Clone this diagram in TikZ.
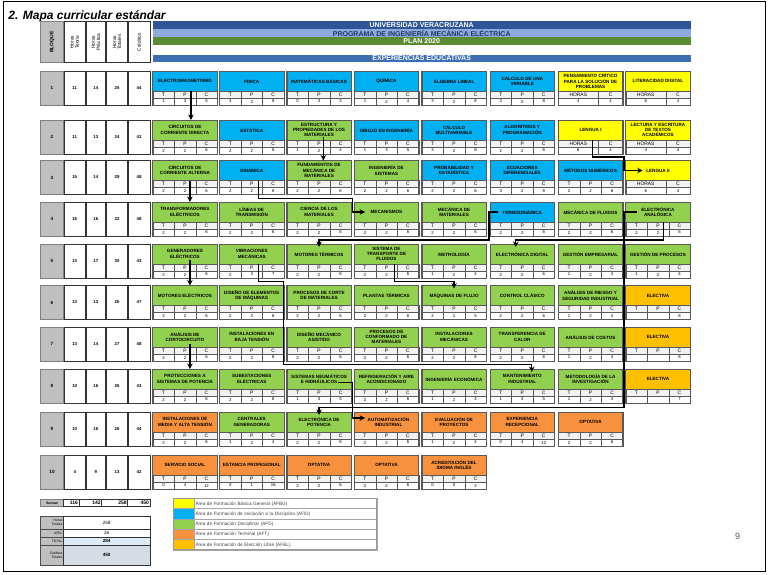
\documentclass[tikz,border=0pt]{standalone}
\usepackage{fontspec}
\setmainfont{Liberation Sans}
\usetikzlibrary{calc,arrows.meta}
\definecolor{cBlue}{HTML}{00B0F0}
\definecolor{cGreen}{HTML}{92D050}
\definecolor{cYel}{HTML}{FFFF00}
\definecolor{cOra}{HTML}{F7913D}
\definecolor{cGold}{HTML}{FFC000}
\definecolor{barA}{HTML}{2F5597}
\definecolor{barB}{HTML}{8EA9DB}
\definecolor{barC}{HTML}{5B8C32}
\definecolor{barD}{HTML}{3D6EB4}
\definecolor{barTxt}{HTML}{1F3864}
\definecolor{bxline}{HTML}{595959}
\definecolor{lgray}{HTML}{BFBFBF}
\definecolor{tblue}{HTML}{DDEBF7}
\definecolor{tgray}{HTML}{D6DCE4}
\newcommand\hdrfont{\fontsize{4.6}{5.2}\selectfont\bfseries}
\newcommand\cellfont{\fontsize{4.9}{5}\selectfont}
\newcommand\numfont{\fontsize{4.3}{4.5}\selectfont}
\newcommand\lblfont{\fontsize{4.6}{5}\selectfont\bfseries}
\def\XA{152.7}\def\XB{219.5}\def\XC{286.8}\def\XD{354.2}
\def\XE{421.8}\def\XF{490}\def\XG{558.3}\def\XH{625.7}
\def\YA{71}\def\YB{120}\def\YC{160.5}\def\YD{202}\def\YE{244}
\def\YF{285.5}\def\YG{327}\def\YH{369}\def\YI{412}\def\YJ{455}
\newcommand\course[8]{%
\node[hdr,fill=#4,anchor=north west] (#1) at (#2,#3) {#5};
\node[tc,anchor=north west] (#1-t) at (#2,#3+20) {T};
\node[tc,anchor=north west] (#1-p) at (#2+21.5,#3+20) {P};
\node[tc,anchor=north west] (#1-c) at (#2+43,#3+20) {C};
\node[vc,anchor=north west] (#1-tv) at (#2,#3+27) {#6};
\node[vc,anchor=north west] (#1-pv) at (#2+21.5,#3+27) {#7};
\node[vc,anchor=north west] (#1-cv) at (#2+43,#3+27) {#8};
\draw[frm] (#1.north west) rectangle (#1-cv.south east);}
\newcommand\courseh[6]{%
\node[hdr,fill=cYel,anchor=north west] (#1) at (#2,#3) {#4};
\node[tc,minimum width=40pt,anchor=north west] (#1-p) at (#2,#3+20) {HORAS};
\node[tc,minimum width=24.5pt,anchor=north west] (#1-c) at (#2+40,#3+20) {C};
\node[vc,minimum width=40pt,anchor=north west] (#1-pv) at (#2,#3+27) {#5};
\node[vc,minimum width=24.5pt,anchor=north west] (#1-cv) at (#2+40,#3+27) {#6};
\draw[frm] (#1.north west) rectangle (#1-cv.south east);}
\newcommand\lrow[6]{%
\node[lc,fill=lgray,draw=gray,line width=0.8pt,minimum width=22.6pt,anchor=north west,font=\lblfont] (b#2) at (40.7,#1) {#2};
\node[lc,minimum width=20.8pt,anchor=north west] (b#2-t) at (64.3,#1) {#3};
\node[lc,minimum width=19.6pt,anchor=north west] (b#2-p) at (86,#1) {#4};
\node[lc,minimum width=20.8pt,anchor=north west] (b#2-s) at (106.6,#1) {#5};
\node[lc,minimum width=21.8pt,anchor=north west] (b#2-c) at (128.2,#1) {#6};}
\begin{document}
\begin{tikzpicture}[x=1pt,y=-1pt,
  hdr/.style={draw=bxline,line width=0.5pt,minimum width=64.5pt,minimum height=20pt,inner sep=0.3pt,outer sep=0pt,align=center,font=\hdrfont},
  tc/.style={draw=bxline,line width=0.35pt,fill=gray!10,minimum width=21.5pt,minimum height=7pt,inner sep=0pt,outer sep=0pt,font=\cellfont},
  vc/.style={tc,fill=white,font=\numfont},
  frm/.style={draw=bxline,line width=0.7pt},
  lc/.style={draw=black!80,line width=0.5pt,fill=white,minimum height=34pt,inner sep=0pt,outer sep=0pt,font=\fontsize{4.3}{4.6}\selectfont\bfseries},
  bar/.style={minimum width=538pt,inner sep=0pt,outer sep=0pt,anchor=north west,font=\fontsize{7}{7}\selectfont\bfseries},
  arr/.style={draw=black,line width=1.3pt,-{Stealth[length=5.5pt,width=5.5pt]}},
  rot/.style={rotate=90,align=center,font=\fontsize{4.8}{5.2}\selectfont},
  lg/.style={draw=gray!70,line width=0.4pt,minimum height=10.3pt,inner sep=0pt,outer sep=0pt,anchor=north west},
]
\useasboundingbox (0,0) rectangle (768,575);
\fill[white] (0,0) rectangle (768,575);
\draw[line width=1pt] (3.5,1.5) rectangle (765,571);
\node[anchor=base west,inner sep=0pt,font=\fontsize{12}{14}\selectfont\bfseries\itshape] (title) at (8.3,19.3) {2. Mapa curricular estándar};

% header bars
\node[bar,fill=barA,minimum height=7.7pt,text=white] (uv) at (152.7,21.3) {UNIVERSIDAD VERACRUZANA};
\node[bar,fill=barB,minimum height=8.3pt,text=barTxt] (prog) at (152.7,29) {PROGRAMA DE INGENIERÍA MECÁNICA ELÉCTRICA};
\node[bar,fill=barC,minimum height=8pt,text=white] (plan) at (152.7,37.3) {PLAN 2020};
\node[bar,fill=barD,minimum height=7.3pt,text=white] (exp) at (152.7,54.7) {EXPERIENCIAS EDUCATIVAS};

% left header
\node[lc,fill=lgray,draw=gray,line width=0.8pt,minimum width=22.6pt,minimum height=41pt,anchor=north west] (hB) at (40.7,21.7) {};
\node[rot,font=\fontsize{5}{5.4}\selectfont\bfseries] (hBt) at (hB.center) {BLOQUE};
\node[lc,minimum width=20.8pt,minimum height=41pt,anchor=north west] (hT) at (64.3,21.7) {};
\node[rot] (hTt) at (hT.center) {Horas\\Teoría};
\node[lc,minimum width=19.6pt,minimum height=41pt,anchor=north west] (hP) at (86,21.7) {};
\node[rot] (hPt) at (hP.center) {Horas\\Práctica};
\node[lc,minimum width=20.8pt,minimum height=41pt,anchor=north west] (hS) at (106.6,21.7) {};
\node[rot] (hSt) at (hS.center) {Horas\\Totales};
\node[lc,minimum width=21.8pt,minimum height=41pt,anchor=north west] (hC) at (128.2,21.7) {};
\node[rot] (hCt) at (hC.center) {Créditos};

% left rows
\lrow{\YA}{1}{11}{14}{25}{44}
\lrow{\YB}{2}{11}{13}{24}{43}
\lrow{\YC}{3}{15}{14}{29}{48}
\lrow{\YD}{4}{16}{16}{32}{48}
\lrow{\YE}{5}{13}{17}{30}{43}
\lrow{\YF}{6}{13}{13}{26}{47}
\lrow{\YG}{7}{13}{14}{27}{48}
\lrow{\YH}{8}{10}{16}{26}{43}
\lrow{\YI}{9}{10}{16}{26}{44}
\lrow{\YJ}{10}{4}{9}{13}{42}

% row 1
\course{r1c1}{\XA}{\YA}{cBlue}{ELECTROMAGNETISMO}{1}{3}{5}
\course{r1c2}{\XB}{\YA}{cBlue}{FÍSICA}{3}{2}{8}
\course{r1c3}{\XC}{\YA}{cBlue}{MATEMÁTICAS BÁSICAS}{0}{3}{3}
\course{r1c4}{\XD}{\YA}{cBlue}{QUÍMICA}{1}{2}{4}
\course{r1c5}{\XE}{\YA}{cBlue}{ÁLGEBRA LINEAL}{3}{2}{8}
\course{r1c6}{\XF}{\YA}{cBlue}{CÁLCULO DE UNA\\VARIABLE}{3}{2}{8}
\courseh{r1c7}{\XG}{\YA}{PENSAMIENTO CRÍTICO\\PARA LA SOLUCIÓN DE\\PROBLEMAS}{4}{4}
\courseh{r1c8}{\XH}{\YA}{LITERACIDAD DIGITAL}{6}{4}
% row 2
\course{r2c1}{\XA}{\YB}{cGreen}{CIRCUITOS DE\\CORRIENTE DIRECTA}{2}{2}{6}
\course{r2c2}{\XB}{\YB}{cBlue}{ESTÁTICA}{2}{2}{6}
\course{r2c3}{\XC}{\YB}{cGreen}{ESTRUCTURA Y\\PROPIEDADES DE LOS\\MATERIALES}{1}{2}{4}
\course{r2c4}{\XD}{\YB}{cBlue}{DIBUJO EN INGENIERÍA}{1}{3}{5}
\course{r2c5}{\XE}{\YB}{cBlue}{CÁLCULO\\MULTIVARIABLE}{3}{2}{8}
\course{r2c6}{\XF}{\YB}{cBlue}{ALGORITMOS Y\\PROGRAMACIÓN}{2}{2}{6}
\courseh{r2c7}{\XG}{\YB}{LENGUA I}{6}{4}
\courseh{r2c8}{\XH}{\YB}{LECTURA Y ESCRITURA\\DE TEXTOS\\ACADÉMICOS}{4}{4}
% row 3
\course{r3c1}{\XA}{\YC}{cGreen}{CIRCUITOS DE\\CORRIENTE ALTERNA}{2}{2}{6}
\course{r3c2}{\XB}{\YC}{cBlue}{DINÁMICA}{2}{2}{6}
\course{r3c3}{\XC}{\YC}{cGreen}{FUNDAMENTOS DE\\MECÁNICA DE\\MATERIALES}{2}{2}{6}
\course{r3c4}{\XD}{\YC}{cGreen}{INGENIERÍA DE\\SISTEMAS}{2}{2}{6}
\course{r3c5}{\XE}{\YC}{cBlue}{PROBABILIDAD Y\\ESTADÍSTICA}{2}{2}{6}
\course{r3c6}{\XF}{\YC}{cBlue}{ECUACIONES\\DIFERENCIALES}{3}{2}{8}
\course{r3c7}{\XG}{\YC}{cBlue}{MÉTODOS NUMÉRICOS}{2}{2}{6}
\courseh{r3c8}{\XH}{\YC}{LENGUA II}{6}{4}
% row 4
\course{r4c1}{\XA}{\YD}{cGreen}{TRANSFORMADORES\\ELÉCTRICOS}{2}{2}{6}
\course{r4c2}{\XB}{\YD}{cGreen}{LÍNEAS DE\\TRANSMISIÓN}{2}{2}{6}
\course{r4c3}{\XC}{\YD}{cGreen}{CIENCIA DE LOS\\MATERIALES}{2}{2}{6}
\course{r4c4}{\XD}{\YD}{cGreen}{MECANISMOS}{2}{2}{6}
\course{r4c5}{\XE}{\YD}{cGreen}{MECÁNICA DE\\MATERIALES}{2}{2}{6}
\course{r4c6}{\XF}{\YD}{cBlue}{TERMODINÁMICA}{2}{2}{6}
\course{r4c7}{\XG}{\YD}{cGreen}{MECÁNICA DE FLUIDOS}{2}{2}{6}
\course{r4c8}{\XH}{\YD}{cGreen}{ELECTRÓNICA\\ANALÓGICA}{2}{2}{6}
% row 5
\course{r5c1}{\XA}{\YE}{cGreen}{GENERADORES\\ELÉCTRICOS}{2}{2}{6}
\course{r5c2}{\XB}{\YE}{cGreen}{VIBRACIONES\\MECÁNICAS}{2}{3}{7}
\course{r5c3}{\XC}{\YE}{cGreen}{MOTORES TÉRMICOS}{2}{2}{6}
\course{r5c4}{\XD}{\YE}{cGreen}{SISTEMA DE\\TRANSPORTE DE\\FLUIDOS}{2}{2}{6}
\course{r5c5}{\XE}{\YE}{cGreen}{METROLOGÍA}{1}{2}{4}
\course{r5c6}{\XF}{\YE}{cGreen}{ELECTRÓNICA DIGITAL}{2}{2}{6}
\course{r5c7}{\XG}{\YE}{cGreen}{GESTIÓN EMPRESARIAL}{1}{2}{4}
\course{r5c8}{\XH}{\YE}{cGreen}{GESTIÓN DE PROCESOS}{1}{2}{4}
% row 6
\course{r6c1}{\XA}{\YF}{cGreen}{MOTORES ELÉCTRICOS}{2}{2}{6}
\course{r6c2}{\XB}{\YF}{cGreen}{DISEÑO DE ELEMENTOS\\DE MÁQUINAS}{2}{2}{6}
\course{r6c3}{\XC}{\YF}{cGreen}{PROCESOS DE CORTE\\DE MATERIALES}{2}{2}{6}
\course{r6c4}{\XD}{\YF}{cGreen}{PLANTAS TÉRMICAS}{2}{2}{6}
\course{r6c5}{\XE}{\YF}{cGreen}{MÁQUINAS DE FLUJO}{2}{1}{5}
\course{r6c6}{\XF}{\YF}{cGreen}{CONTROL CLÁSICO}{2}{2}{6}
\course{r6c7}{\XG}{\YF}{cGreen}{ANÁLISIS DE RIESGO Y\\SEGURIDAD INDUSTRIAL}{1}{2}{4}
\course{r6c8}{\XH}{\YF}{cGold}{ELECTIVA}{}{}{8}
% row 7
\course{r7c1}{\XA}{\YG}{cGreen}{ANÁLISIS DE\\CORTOCIRCUITO}{2}{2}{6}
\course{r7c2}{\XB}{\YG}{cGreen}{INSTALACIONES EN\\BAJA TENSIÓN}{2}{2}{6}
\course{r7c3}{\XC}{\YG}{cGreen}{DISEÑO MECÁNICO\\ASISTIDO}{2}{2}{6}
\course{r7c4}{\XD}{\YG}{cGreen}{PROCESOS DE\\CONFORMADO DE\\MATERIALES}{2}{2}{6}
\course{r7c5}{\XE}{\YG}{cGreen}{INSTALACIONES\\MECÁNICAS}{2}{2}{6}
\course{r7c6}{\XF}{\YG}{cGreen}{TRANSFERENCIA DE\\CALOR}{2}{2}{6}
\course{r7c7}{\XG}{\YG}{cGreen}{ANÁLISIS DE COSTOS}{1}{2}{4}
\course{r7c8}{\XH}{\YG}{cGold}{ELECTIVA}{}{}{8}
% row 8
\course{r8c1}{\XA}{\YH}{cGreen}{PROTECCIONES A\\SISTEMAS DE POTENCIA}{2}{2}{6}
\course{r8c2}{\XB}{\YH}{cGreen}{SUBESTACIONES\\ELÉCTRICAS}{2}{2}{6}
\course{r8c3}{\XC}{\YH}{cGreen}{SISTEMAS NEUMÁTICOS\\E HIDRÁULICOS}{1}{3}{5}
\course{r8c4}{\XD}{\YH}{cGreen}{REFRIGERACIÓN Y AIRE\\ACONDICIONADO}{2}{2}{6}
\course{r8c5}{\XE}{\YH}{cGreen}{INGENIERÍA ECONÓMICA}{1}{2}{4}
\course{r8c6}{\XF}{\YH}{cGreen}{MANTENIMIENTO\\INDUSTRIAL}{1}{3}{5}
\course{r8c7}{\XG}{\YH}{cGreen}{METODOLOGÍA DE LA\\INVESTIGACIÓN}{1}{2}{4}
\course{r8c8}{\XH}{\YH}{cGold}{ELECTIVA}{}{}{7}
% row 9
\course{r9c1}{\XA}{\YI}{cOra}{INSTALACIONES DE\\MEDIA Y ALTA TENSIÓN}{2}{2}{6}
\course{r9c2}{\XB}{\YI}{cGreen}{CENTRALES\\GENERADORAS}{1}{2}{4}
\course{r9c3}{\XC}{\YI}{cGreen}{ELECTRÓNICA DE\\POTENCIA}{2}{2}{6}
\course{r9c4}{\XD}{\YI}{cOra}{\hspace*{4pt}AUTOMATIZACIÓN\\\hspace*{4pt}INDUSTRIAL}{2}{2}{6}
\course{r9c5}{\XE}{\YI}{cOra}{EVALUACIÓN DE\\PROYECTOS}{1}{2}{4}
\course{r9c6}{\XF}{\YI}{cOra}{EXPERIENCIA\\RECEPCIONAL}{0}{4}{12}
\course{r9c7}{\XG}{\YI}{cOra}{OPTATIVA}{2}{2}{6}
% row 10
\course{r10c1}{\XA}{\YJ}{cOra}{SERVICIO SOCIAL}{0}{4}{12}
\course{r10c2}{\XB}{\YJ}{cOra}{ESTANCIA PROFESIONAL}{0}{1}{16}
\course{r10c3}{\XC}{\YJ}{cOra}{OPTATIVA}{2}{2}{6}
\course{r10c4}{\XD}{\YJ}{cOra}{OPTATIVA}{2}{2}{6}
\course{r10c5}{\XE}{\YJ}{cOra}{ACREDITACIÓN DEL\\IDIOMA INGLÉS}{0}{0}{2}

% connectors
\coordinate (k1) at ($(r1c1-p.north)+(6,0)$);
\draw[arr] (k1) -- (k1 |- r2c1.north);
\coordinate (k2) at ($(r2c3-p.north)+(4.3,-3)$);
\draw[arr] (k2) -- (k2 |- r3c3.north);
\coordinate (k3) at ($(r3c1-p.north)+(5,0)$);
\draw[arr] (k3) -- (k3 |- r4c1.north);
\coordinate (k4) at ($(r3c2-p.north)+(6.5,0)$);
\coordinate (k4b) at (352.7,198.2);
\draw[arr] (k4) |- (k4b) |- ($(r4c4.west)+(11,0)$);
\coordinate (k5) at ($(r2c7.south west)+(34,0)$);
\coordinate (k5b) at (623.9,157);
\draw[arr] (k5) |- (k5b) |- ($(r3c8.west)+(17,0)$);
\coordinate (k6) at ($(r4c6.west)+(8,0)$);
\coordinate (k6b) at (489,240);
\draw[arr,shorten >=-3pt] (k6) -| (k6b) -| (r5c3.north);
\coordinate (k7) at ($(r4c8-p.north)+(5.3,0)$);
\coordinate (k7b) at ($(r5c6.north)+(-6.5,-4)$);
\draw[arr,shorten >=-3pt] (k7) |- (k7b) -- ($(r5c6.north)+(-6.5,0)$);
\coordinate (k8) at ($(r4c8.west)+(11,0)$);
\coordinate (k8b) at (624.1,407.5);
\draw[arr,shorten >=-3pt] (k8) -| (k8b) -| (r9c3.north);
\coordinate (k9) at ($(r5c2-p.north)+(6.5,0)$);
\coordinate (k9b) at (283.6,281.5);
\coordinate (k9c) at (283.6,364.8);
\draw[arr,shorten >=-3pt] (k9) |- (k9b) -- (k9c) -| ($(r8c6.north)+(9.5,0)$);
\coordinate (k10) at ($(r5c4-p.north)+(7.9,0)$);
\draw[arr,shorten >=-3pt] (k10) |- ($(r6c5.north)+(0,-4)$) -- (r6c5.north);
\coordinate (k11) at ($(r5c1.south)+(5,-4)$);
\draw[arr] (k11) -- (k11 |- r6c1.north);
\coordinate (k12) at ($(r7c1.south)+(5,-3)$);
\draw[arr] (k12) -- (k12 |- r8c1.north);
\coordinate (k13) at ($(r8c3.east)+(-13,3.5)$);
\coordinate (k13b) at (352.7,382.5);
\draw[arr] (k13) -- (k13b) |- ($(r9c4.north west)+(11,6)$);

% sums
\node[lc,fill=lgray,draw=gray,line width=0.8pt,minimum width=22.6pt,minimum height=7pt,anchor=north west,font=\fontsize{3.6}{4}\selectfont\bfseries] (sL) at (40.7,499.5) {Sumas};
\node[lc,minimum height=7pt,anchor=north west,text width=13.7pt,inner xsep=1pt,align=right,font=\fontsize{5}{5}\selectfont\bfseries] (s1) at (63.3,499.5) {116};
\node[lc,minimum height=7pt,anchor=north west,text width=20.7pt,inner xsep=1pt,align=right,font=\fontsize{5}{5}\selectfont\bfseries] (s2) at (79,499.5) {142};
\node[lc,minimum height=7pt,anchor=north west,text width=24pt,inner xsep=1pt,align=right,font=\fontsize{5}{5}\selectfont\bfseries] (s3) at (101.7,499.5) {258};
\node[lc,minimum height=7pt,anchor=north west,text width=20.3pt,inner xsep=1pt,align=right,font=\fontsize{5}{5}\selectfont\bfseries] (s4) at (127.7,499.5) {450};

% totals table
\node[lc,fill=lgray,draw=black!70,minimum width=22.6pt,minimum height=13pt,anchor=north west,text width=21pt,inner xsep=0.8pt,align=right,font=\fontsize{3.4}{3.8}\selectfont] (tL1) at (40.7,516) {Horas\\Totales};
\node[lc,minimum width=86.7pt,minimum height=13pt,anchor=north west,font=\fontsize{4.6}{5}\selectfont] (tV1) at (63.3,516) {258};
\node[lc,fill=lgray,draw=black!70,minimum width=22.6pt,minimum height=8pt,anchor=north west,text width=21pt,inner xsep=0.8pt,align=right,font=\fontsize{3.4}{3.8}\selectfont] (tL2) at (40.7,529) {AFEL};
\node[lc,minimum width=86.7pt,minimum height=8pt,anchor=north west,font=\fontsize{4.6}{5}\selectfont] (tV2) at (63.3,529) {26};
\node[lc,fill=lgray,draw=black!70,minimum width=22.6pt,minimum height=8pt,anchor=north west,text width=21pt,inner xsep=0.8pt,align=right,font=\fontsize{3.4}{3.8}\selectfont] (tL3) at (40.7,537) {TOTAL};
\node[lc,fill=tblue,minimum width=86.7pt,minimum height=8pt,anchor=north west,font=\fontsize{4.6}{5}\selectfont\bfseries] (tV3) at (63.3,537) {284};
\node[lc,fill=lgray,draw=black!70,minimum width=22.6pt,minimum height=20pt,anchor=north west,text width=21pt,inner xsep=0.8pt,align=right,font=\fontsize{3.4}{3.8}\selectfont] (tL4) at (40.7,545) {Créditos\\Totales};
\node[lc,fill=tgray,minimum width=86.7pt,minimum height=20pt,anchor=north west,font=\fontsize{4.6}{5}\selectfont\bfseries] (tV4) at (63.3,545) {450};

% legend
\node[lg,fill=cYel,minimum width=21pt] (g1) at (173.3,498.3) {};
\node[lg,fill=cBlue,minimum width=21pt] (g2) at (173.3,508.6) {};
\node[lg,fill=cGreen,minimum width=21pt] (g3) at (173.3,518.9) {};
\node[lg,fill=cOra,minimum width=21pt] (g4) at (173.3,529.2) {};
\node[lg,fill=cGold,minimum width=21pt] (g5) at (173.3,539.5) {};
\node[lg,minimum width=182.4pt,text width=180pt,inner xsep=1.2pt,align=left,font=\fontsize{4.7}{5}\selectfont,text=black!75] (t1) at (194.3,498.3) {Área de Formación Básica General (AFBG)};
\node[lg,minimum width=182.4pt,text width=180pt,inner xsep=1.2pt,align=left,font=\fontsize{4.7}{5}\selectfont,text=black!75] (t2) at (194.3,508.6) {Área de Formación de Iniciación a la Disciplina (AFID)};
\node[lg,minimum width=182.4pt,text width=180pt,inner xsep=1.2pt,align=left,font=\fontsize{4.7}{5}\selectfont,text=black!75] (t3) at (194.3,518.9) {Área de Formación Disciplinar (AFD)};
\node[lg,minimum width=182.4pt,text width=180pt,inner xsep=1.2pt,align=left,font=\fontsize{4.7}{5}\selectfont,text=black!75] (t4) at (194.3,529.2) {Área de Formación Terminal (AFT)};
\node[lg,minimum width=182.4pt,text width=180pt,inner xsep=1.2pt,align=left,font=\fontsize{4.7}{5}\selectfont,text=black!75] (t5) at (194.3,539.5) {Área de Formación de Elección Libre (AFEL)};
\draw[draw=gray!80,line width=0.9pt] (g1.north west) rectangle (t5.south east);

\node[font=\fontsize{9}{9}\selectfont,text=black!65] (pg) at (737.7,536.7) {9};
\end{tikzpicture}
\end{document}
